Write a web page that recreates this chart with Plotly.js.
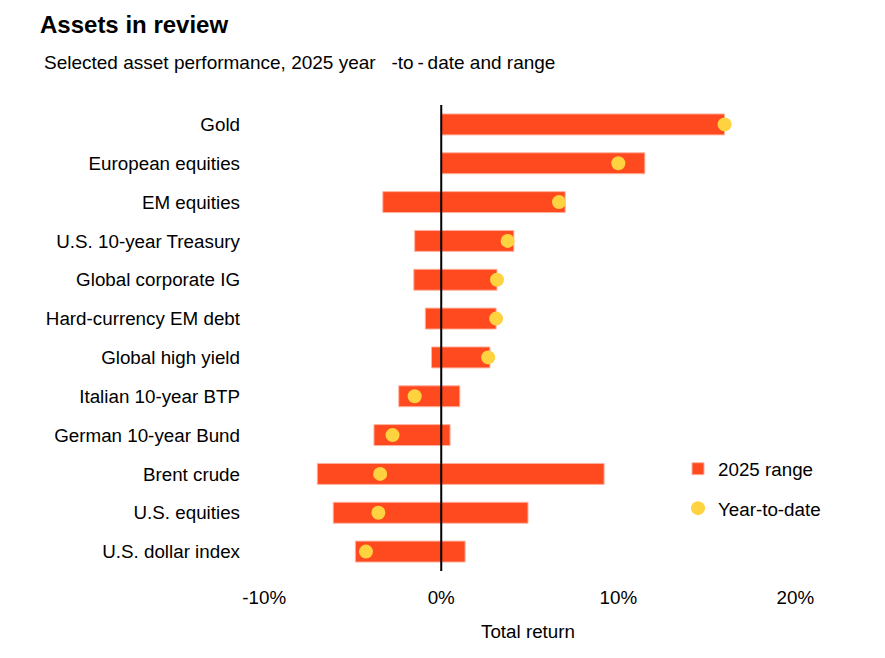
<!DOCTYPE html>
<html>
<head>
<meta charset="utf-8">
<script src="https://cdn.plot.ly/plotly-3.0.1.min.js"></script>
<style>html,body{margin:0;padding:0;background:#fff;}#chart{width:885px;height:658px;}</style>
</head>
<body>
<div id="chart"></div>
<script>
const categories = ["Gold", "European equities", "EM equities", "U.S. 10-year Treasury", "Global corporate IG", "Hard-currency EM debt", "Global high yield", "Italian 10-year BTP", "German 10-year Bund", "Brent crude", "U.S. equities", "U.S. dollar index"];
const rangeMin = [0.0, 0.0, -3.3, -1.5, -1.55, -0.9, -0.55, -2.4, -3.8, -7.0, -6.1, -4.85];
const rangeMax = [16.0, 11.5, 7.0, 4.1, 3.15, 3.1, 2.75, 1.05, 0.5, 9.2, 4.9, 1.35];
const ytd = [16.0, 10.0, 6.65, 3.75, 3.15, 3.1, 2.65, -1.5, -2.75, -3.45, -3.55, -4.25];
const tickVals = [-10, 0, 10, 20];
const tickText = ["-10%", "0%", "10%", "20%"];

const FONT = "Liberation Sans, Arial, sans-serif";
const BAR = "#FF4A1F";
const DOT = "#FFD23F";

const traces = [
  {
    type: "bar", orientation: "h", name: "2025 range",
    y: categories,
    base: rangeMin,
    x: rangeMax.map((v, i) => v - rangeMin[i]),
    width: 0.54,
    marker: {color: BAR, line: {color: "#FFB3A0", width: 1}},
    legendgroup: "a", hoverinfo: "skip"
  },
  {
    type: "scatter", mode: "markers", name: "Year-to-date",
    y: categories, x: ytd,
    marker: {color: DOT, size: 14, line: {width: 0}},
    legendgroup: "b", hoverinfo: "skip"
  }
];

const layout = {
  width: 885, height: 658,
  margin: {l: 250, r: 79, t: 105, b: 87},
  paper_bgcolor: "#fff", plot_bgcolor: "#fff",
  font: {family: FONT, size: 18.8, color: "#000"},
  showlegend: true,
  title: {
    text: "<b>Assets in review</b>",
    font: {family: FONT, size: 24, color: "#000"},
    x: 40/885, xanchor: "left", xref: "container",
    y: 1 - 25/658, yanchor: "middle", yref: "container"
  },
  annotations: [{
    text: "Selected asset performance, 2025 year&nbsp;&nbsp; -to\u2009-\u2009date and range",
    xref: "paper", yref: "paper",
    x: (42 - 250)/556, y: 1 + (105 - 63)/466,
    xanchor: "left", yanchor: "middle", showarrow: false,
    font: {family: FONT, size: 19, color: "#000"}
  }],
  xaxis: {
    range: [-10.8, 20.6], tickvals: tickVals, ticktext: tickText,
    showgrid: false, zeroline: false, showline: false, ticks: "",
    ticklabelstandoff: 13,
    title: {text: "Total return", standoff: 18, font: {family: FONT, size: 18.8}},
    fixedrange: true
  },
  yaxis: {
    type: "category", categoryorder: "array", categoryarray: categories,
    range: [11.5, -0.5],
    showgrid: false, zeroline: false, showline: false, ticks: "",
    ticklabelstandoff: 9, fixedrange: true
  },
  shapes: [{
    type: "line", xref: "x", yref: "paper", x0: 0, x1: 0, y0: 0, y1: 1,
    line: {color: "#000", width: 2}, layer: "above"
  }],
  legend: {
    x: (678 - 250)/556, y: (571 - 450)/466, xanchor: "left", yanchor: "top",
    bgcolor: "rgba(0,0,0,0)", tracegroupgap: 12, traceorder: "grouped",
    font: {family: FONT, size: 18.8, color: "#000"}, itemwidth: 30
  }
};

Plotly.newPlot("chart", traces, layout, {displayModeBar: false, staticPlot: true});
</script>
</body>
</html>
